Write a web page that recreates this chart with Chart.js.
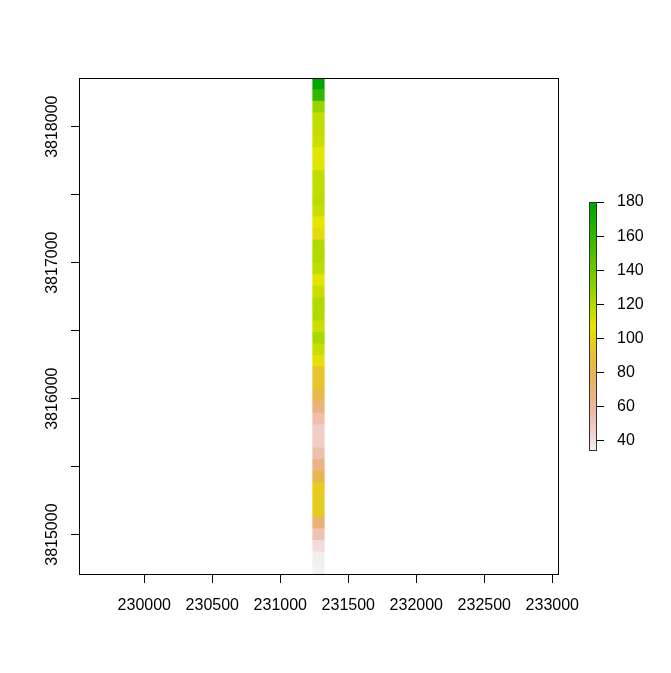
<!DOCTYPE html>
<html><head><meta charset="utf-8">
<script src="https://cdn.jsdelivr.net/npm/chart.js@4/dist/chart.umd.min.js"></script>
<style>
html,body{margin:0;padding:0;background:#fff;}
#wrap{position:relative;width:671px;height:673px;}
canvas{position:absolute;left:0;top:0;}
</style>
</head><body>
<div id="wrap"><canvas id="main" width="671" height="673"></canvas><canvas id="legend" width="671" height="673"></canvas></div>
<script>
// Raster cell values, one column, listed from the top row to the bottom row
const cellValues = [180,160,127,116,116,114,108,108,116,116,118,114,107,103,120,120,117,108,114,120,120,114,122,115,104,93,93,83,68,54,47,47,54,66,82,97,97,97,70,52,41,35,34];
// Raster extent (map units)
const colXmin = 231238.5, colXmax = 231323.5;
const rowTop = 3818358;
const cellSize = 85;
const xRange = [229520, 233042];
// Axis ticks
const xTicks = [230000,230500,231000,231500,232000,232500,233000];
const xTickLabels = ['230000','230500','231000','231500','232000','232500','233000'];
const yTicks = [3815000,3815500,3816000,3816500,3817000,3817500,3818000];
const yTickLabels = ['3815000','','3816000','','3817000','','3818000'];
const legendTicks = [40,60,80,100,120,140,160,180];

const FONT = {family:'"Liberation Sans", Arial, Helvetica, sans-serif', size:16};
const zmin = Math.min(...cellValues), zmax = Math.max(...cellValues);
const rowBottom = rowTop - cellValues.length*cellSize;

function hsv2rgb(h,s,v){
  const i=Math.floor(h*6), f=h*6-i, p=v*(1-s), q=v*(1-f*s), t=v*(1-(1-f)*s);
  let r,g,b;
  switch(((i%6)+6)%6){case 0:r=v;g=t;b=p;break;case 1:r=q;g=v;b=p;break;case 2:r=p;g=v;b=t;break;case 3:r=p;g=q;b=v;break;case 4:r=t;g=p;b=v;break;default:r=v;g=p;b=q;}
  return 'rgb('+Math.round(r*255)+','+Math.round(g*255)+','+Math.round(b*255)+')';
}
// R rev(terrain.colors()) palette
function terrainColor(val){
  let t=(zmax-val)/(zmax-zmin); t=Math.min(1,Math.max(0,t));
  let h,s,v;
  if(t<=0.5){const u=t/0.5; h=4/12+(2/12-4/12)*u; s=1; v=0.65+0.25*u;}
  else {const u=(t-0.5)/0.5; h=(2/12)*(1-u); s=1-u; v=0.9+0.05*u;}
  return hsv2rgb(h,s,v);
}

const boxPlugin = {id:'box', afterDraw(chart){
  const a=chart.chartArea, c=chart.ctx; c.save(); c.strokeStyle='#000'; c.lineWidth=1;
  c.strokeRect(Math.round(a.left)+0.5, Math.round(a.top)+0.5, Math.round(a.right-a.left), Math.round(a.bottom-a.top)-1); c.restore();
}};

const mainChart = new Chart(document.getElementById('main'), {
  type:'bar',
  data:{datasets:[{
    data: cellValues.map((v,i)=>({x:(colXmin+colXmax)/2, y:[rowTop-(i+1)*cellSize, rowTop-i*cellSize]})),
    backgroundColor: cellValues.map(terrainColor),
    borderWidth:0, barThickness:11, grouped:false
  }]},
  options:{
    responsive:false, animation:false, events:[],
    layout:{padding:{left:0,top:78,right:113,bottom:0}},
    plugins:{legend:{display:false}, tooltip:{enabled:false}},
    scales:{
      x:{type:'linear', offset:false, min:xRange[0], max:xRange[1],
        afterBuildTicks:s=>{s.ticks=xTicks.map(v=>({value:v}));},
        afterFit:s=>{s.height=98;},
        grid:{drawOnChartArea:false, drawTicks:true, tickLength:8, color:'#000', offset:false},
        border:{display:false},
        ticks:{autoSkip:false, maxRotation:0, minRotation:0, padding:13, color:'#000', font:FONT,
          callback:(v)=>xTickLabels[xTicks.indexOf(v)]}},
      y:{type:'linear', min:rowBottom, max:rowTop,
        afterBuildTicks:s=>{s.ticks=yTicks.map(v=>({value:v}));},
        afterFit:s=>{s.width=79;},
        grid:{drawOnChartArea:false, drawTicks:true, tickLength:8, color:'#000'},
        border:{display:false},
        ticks:{autoSkip:false, minRotation:90, maxRotation:90, crossAlign:'center', padding:-13, color:'#000', font:FONT,
          callback:(v)=>yTickLabels[yTicks.indexOf(v)]}}
    }
  },
  plugins:[boxPlugin]
});
// bar width from the column's map extent through the x scale
const xs = mainChart.scales.x;
mainChart.data.datasets[0].barThickness = Math.abs(xs.getPixelForValue(colXmax)-xs.getPixelForValue(colXmin));
mainChart.update('none');

const gradientPlugin = {id:'grad', beforeDatasetsDraw(chart){
  const a=chart.chartArea, c=chart.ctx;
  const g=c.createLinearGradient(0,a.bottom,0,a.top);
  for(let k=0;k<=100;k++){const val=zmin+(zmax-zmin)*k/100; g.addColorStop(k/100, terrainColor(val));}
  c.save(); c.fillStyle=g; c.fillRect(a.left,a.top,a.right-a.left,a.bottom-a.top);
  c.strokeStyle='#333'; c.lineWidth=1; c.strokeRect(Math.round(a.left)+0.5,Math.round(a.top)+0.5,Math.round(a.right-a.left)-1,Math.round(a.bottom-a.top)-1);
  c.restore();
}};

new Chart(document.getElementById('legend'), {
  type:'scatter', data:{datasets:[]},
  options:{
    responsive:false, animation:false, events:[],
    layout:{padding:{left:589,top:202,bottom:222,right:0}},
    plugins:{legend:{display:false}, tooltip:{enabled:false}},
    scales:{
      x:{display:false, min:0, max:1},
      y:{position:'right', min:zmin, max:zmax,
        afterBuildTicks:s=>{s.ticks=legendTicks.map(v=>({value:v}));},
        afterFit:s=>{s.width=74;},
        grid:{drawOnChartArea:false, drawTicks:true, tickLength:7, color:'#000'},
        border:{display:false},
        ticks:{autoSkip:false, padding:13, color:'#000', font:FONT, callback:(v)=>String(v)}}
    }
  },
  plugins:[gradientPlugin]
});
</script>
</body></html>
